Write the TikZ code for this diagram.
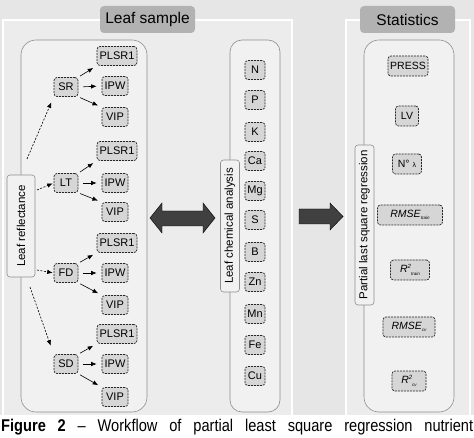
\documentclass[tikz,border=0pt]{standalone}
\usepackage{fontspec}
\setmainfont{Liberation Sans}
\newfontfamily\capfont{Liberation Sans}[FakeStretch=0.86]
\usetikzlibrary{arrows.meta,calc}
\definecolor{bgc}{HTML}{E6E6E6}
\definecolor{panelc}{HTML}{ECECEC}
\definecolor{inboxc}{HTML}{F1F1F1}
\definecolor{inboxd}{HTML}{8E8E8E}
\definecolor{nodec}{HTML}{D6D6D6}
\definecolor{hdrc}{HTML}{B2B2B2}
\definecolor{arrc}{HTML}{404040}
\newcommand{\mysub}[1]{\raisebox{-2.5pt}{\fontsize{4.5}{5}\selectfont\itshape #1}}
\newcommand{\mysup}[1]{\raisebox{4pt}{\fontsize{6}{6}\selectfont\itshape #1}}
\begin{document}
\begin{tikzpicture}[x=1pt,y=-1pt,
  smallbox/.style={draw=black!85, dash pattern=on 2pt off 1pt, fill=nodec,
    rounded corners=3pt, minimum height=19pt, inner sep=1.5pt, line width=0.7pt,
    font=\fontsize{11}{12}\selectfont},
  chembox/.style={smallbox, minimum width=20pt, inner sep=0.5pt},
  statbox/.style={smallbox, minimum height=20pt, font=\fontsize{10.5}{12}\selectfont},
  inbox/.style={draw=inboxd, fill=inboxc, line width=0.6pt, rounded corners=15pt},
  tabbox/.style={draw=inboxd, fill=inboxc, line width=0.6pt, rounded corners=3pt,
    rotate=90, inner sep=1pt, font=\fontsize{11.5}{12}\selectfont},
  hdr/.style={fill=hdrc, rounded corners=4pt, minimum width=95pt, minimum height=27pt,
    inner sep=0pt, font=\fontsize{15.5}{16}\selectfont},
  arr/.style={-{Latex[length=5.5pt,width=4.5pt]}, line width=0.6pt, black},
  darr/.style={arr, dash pattern=on 2pt off 1.5pt},
  bigarr/.style={fill=arrc, draw=black, line width=0.4pt, line join=miter}
]
\useasboundingbox (0,0) rectangle (474,438);
\fill[white] (0,0) rectangle (474,438);
\fill[bgc] (0,0) rectangle (474,415);
\draw[white, line width=1.5pt, fill=panelc] (3,20) rectangle (292,416);
\draw[white, line width=1.5pt, fill=panelc] (346,20) rectangle (470,416);

% headers
\node[hdr] (hleaf) at (147.5,19.5) {Leaf sample};
\node[hdr] (hstat) at (407.5,19.5) {Statistics};

% inner boxes
\draw[inbox] (21,40) rectangle (147,412);
\draw[inbox, rounded corners=12pt] (230,40) rectangle (280,412);
\draw[inbox] (364,40) rectangle (454,412);

% tabs
\node[tabbox, minimum width=102pt, minimum height=28pt] (refl) at (21,226) {Leaf reflectance};
\node[tabbox, minimum width=132pt, minimum height=19pt] (chem) at (230,226) {Leaf chemical analysis};
\node[tabbox, minimum width=160pt, minimum height=19pt] (pls) at (364.5,225) {Partial last square regression};

% left groups
\node[smallbox, minimum width=24pt] (SR) at (66,87) {SR};
\node[smallbox, minimum width=40pt] (SRa) at (117,56) {PLSR1};
\node[smallbox, minimum width=26pt] (SRb) at (115,86) {IPW};
\node[smallbox, minimum width=26pt] (SRc) at (115,117) {VIP};

\node[smallbox, minimum width=24pt] (LT) at (66,183) {LT};
\node[smallbox, minimum width=40pt] (LTa) at (117,151) {PLSR1};
\node[smallbox, minimum width=26pt] (LTb) at (115,183) {IPW};
\node[smallbox, minimum width=26pt] (LTc) at (115,212) {VIP};

\node[smallbox, minimum width=24pt] (FD) at (66,273) {FD};
\node[smallbox, minimum width=40pt] (FDa) at (117,243) {PLSR1};
\node[smallbox, minimum width=26pt] (FDb) at (115,273) {IPW};
\node[smallbox, minimum width=26pt] (FDc) at (115,305) {VIP};

\node[smallbox, minimum width=24pt] (SD) at (66,364) {SD};
\node[smallbox, minimum width=40pt] (SDa) at (117,334) {PLSR1};
\node[smallbox, minimum width=26pt] (SDb) at (115,364) {IPW};
\node[smallbox, minimum width=26pt] (SDc) at (115,397) {VIP};

\foreach \g in {SR,LT,FD,SD}{
  \draw[arr, shorten <=2pt, shorten >=4pt] (\g.north east) -- (\g a.south west);
  \draw[arr, shorten <=5pt, shorten >=5pt] (\g.east) -- (\g b.west);
  \draw[arr, shorten <=2pt, shorten >=4pt] (\g.south east) -- (\g c.north west);
}

% dashed arrows from reflectance tab
\coordinate (c1) at (27,159);
\coordinate (c2) at (37,190);
\coordinate (c3) at (37,270);
\coordinate (c4) at (30,287);
\draw[darr, shorten >=6pt] (c1) -- (SR.south west);
\draw[darr, shorten >=1pt] (c2) -- (LT.west);
\draw[darr, shorten >=1pt] (c3) -- (FD.west);
\draw[darr, shorten >=9pt] (c4) -- (SD.north west);

% chemical elements
\foreach \n/\y in {N/70,P/100,K/132,Ca/161,Mg/191,S/220,B/252,Zn/282,Mn/314,Fe/345,Cu/376}{
  \node[chembox] (el\n) at (255,\y) {\n};
}

% statistics
\node[statbox, minimum width=40pt] (press) at (408,66) {PRESS};
\node[statbox, minimum width=23pt] (lv) at (407,116) {LV};
\node[statbox, minimum width=29pt] (nl) at (407,164) {N° {\fontsize{7}{7}\selectfont λ}};
\node[statbox, minimum width=65pt] (rmset) at (410,215) {\textit{RMSE}\mysub{train}};
\node[statbox, minimum width=39pt] (r2t) at (410,270) {\textit{R}\mysup{2}\mysub{train}};
\node[statbox, minimum width=52pt] (rmsecv) at (409,327) {\textit{RMSE}\mysub{cv}};
\node[statbox, minimum width=34pt] (r2cv) at (409,381) {\textit{R}\mysup{2}\mysub{cv}};

% big arrows
\draw[bigarr] (150,218) -- (162,203) -- (162,211) -- (203,211) -- (203,203)
  -- (215,218) -- (203,233) -- (203,226) -- (162,226) -- (162,233) -- cycle;
\draw[bigarr] (299,209) -- (330,209) -- (330,203) -- (343,216.5) -- (330,230)
  -- (330,224) -- (299,224) -- cycle;

% caption
\node[anchor=base west, inner sep=0pt] (cap) at (1,431)
  {\capfont\fontsize{17}{20}\selectfont\makebox[472pt][s]{{\bfseries Figure 2} – Workflow of partial least square regression nutrient}};
\end{tikzpicture}
\end{document}
